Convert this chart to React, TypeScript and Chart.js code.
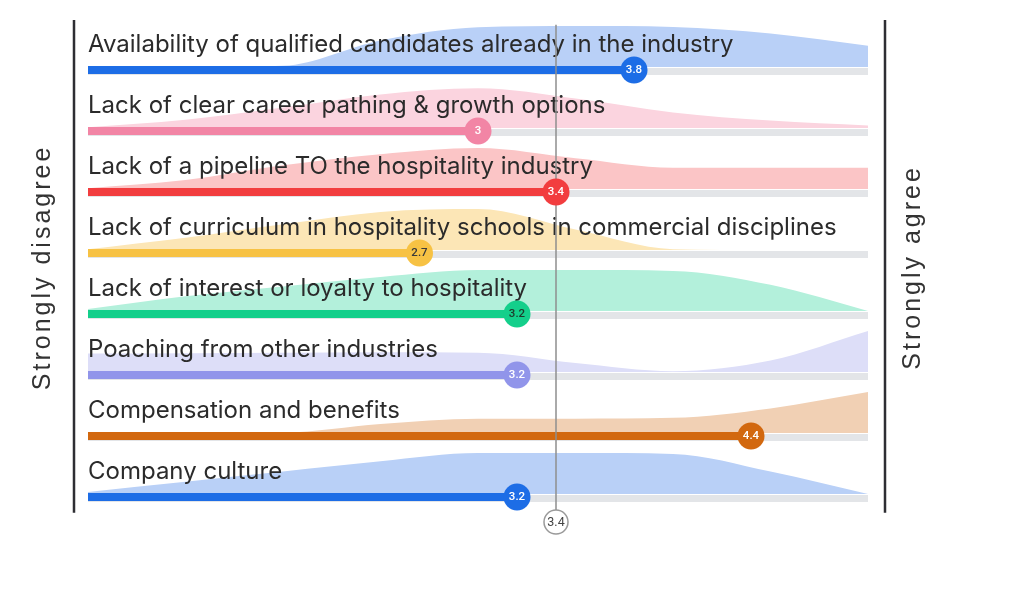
import { useEffect, useRef } from 'react';
import { Chart, registerables } from 'chart.js';

Chart.register(...registerables);

// ---------- data ----------
const categories = [
  'Availability of qualified candidates already in the industry',
  'Lack of clear career pathing & growth options',
  'Lack of a pipeline TO the hospitality industry',
  'Lack of curriculum in hospitality schools in commercial disciplines',
  'Lack of interest or loyalty to hospitality',
  'Poaching from other industries',
  'Compensation and benefits',
  'Company culture',
];
const values = [3.8, 3, 3.4, 2.7, 3.2, 3.2, 4.4, 3.2];
const valueLabels = ['3.8', '3', '3.4', '2.7', '3.2', '3.2', '4.4', '3.2'];
const meanValue = 3.4;
const meanLabel = '3.4';
const scaleMin = 1;
const scaleMax = 5;
const minLabel = 'Strongly disagree';
const maxLabel = 'Strongly agree';

// response distribution (relative density) sampled at these scale points
const densityX = [1, 1.5, 2, 2.5, 3, 3.5, 4, 4.5, 5];
const densityAvailability = [0, 0, 0.03, 0.65, 0.97, 1.0, 0.98, 0.82, 0.52];
const densityCareer = [0.02, 0.2, 0.5, 0.82, 0.97, 0.72, 0.38, 0.18, 0.06];
const densityPipeline = [0.02, 0.22, 0.58, 0.85, 1.0, 0.75, 0.52, 0.52, 0.52];
const densityCurriculum = [0.02, 0.3, 0.63, 0.93, 1.0, 0.5, 0.02, 0, 0];
const densityLoyalty = [0.05, 0.36, 0.6, 0.83, 1.0, 1.0, 0.98, 0.64, 0];
const densityPoaching = [0.45, 0.46, 0.47, 0.48, 0.47, 0.22, 0.02, 0.28, 1.0];
const densityCompensation = [0, 0, 0.01, 0.22, 0.35, 0.35, 0.37, 0.6, 1.0];
const densityCulture = [0.05, 0.3, 0.55, 0.8, 1.0, 1.0, 0.98, 0.55, 0];
const densities = [
  densityAvailability,
  densityCareer,
  densityPipeline,
  densityCurriculum,
  densityLoyalty,
  densityPoaching,
  densityCompensation,
  densityCulture,
];

// ---------- styles ----------
const barColors = ['#1d6de6', '#f285a5', '#f23d3f', '#f7c244', '#14cf8b', '#9195ea', '#d2680f', '#1d6de6'];
const areaColors = ['#b9d0f7', '#fbd4df', '#fbc5c6', '#fce6b6', '#b3f0db', '#dddef8', '#f1d0b4', '#b9d0f7'];
const valueTextColors = ['#ffffff', '#ffffff', '#ffffff', '#3a3a3a', '#1f3a2c', '#ffffff', '#ffffff', '#ffffff'];
const trackColor = '#e3e5e8';
const meanColor = '#8e8e8e';
const textColor = '#2b2b2b';
const ridgeHeight = 0.67; // in row units
const ridgeBaseOffset = 0.05;

export default function App() {
  const canvasRef = useRef<HTMLCanvasElement | null>(null);

  useEffect(() => {
    const canvas = canvasRef.current;
    if (!canvas) return;
    const n = categories.length;
    const datasets: any[] = [];

    // ridges
    densities.forEach((d, k) => {
      datasets.push({
        type: 'line',
        data: densityX.map((x, i) => ({ x, y: k - ridgeBaseOffset - d[i] * ridgeHeight })),
        fill: { value: k - ridgeBaseOffset },
        backgroundColor: areaColors[k],
        borderWidth: 0,
        pointRadius: 0,
        cubicInterpolationMode: 'monotone',
        order: 5,
      });
    });
    // tracks
    categories.forEach((_, k) => {
      datasets.push({
        type: 'line',
        data: [
          { x: scaleMin, y: k + 0.025 },
          { x: scaleMax, y: k + 0.025 },
        ],
        borderColor: trackColor,
        borderWidth: 7,
        borderCapStyle: 'butt',
        pointRadius: 0,
        fill: false,
        order: 4,
      });
    });
    // bars
    values.forEach((v, k) => {
      datasets.push({
        type: 'line',
        data: [
          { x: scaleMin, y: k },
          { x: v, y: k },
        ],
        borderColor: barColors[k],
        borderWidth: 8,
        borderCapStyle: 'butt',
        pointRadius: 0,
        fill: false,
        order: 3,
      });
    });
    // mean line
    datasets.push({
      type: 'line',
      data: [
        { x: meanValue, y: -0.74 },
        { x: meanValue, y: n - 1 + 0.41 },
      ],
      borderColor: meanColor,
      borderWidth: 1.5,
      pointRadius: 0,
      fill: false,
      order: 2,
    });
    // value markers
    datasets.push({
      type: 'scatter',
      data: values.map((v, k) => ({ x: v, y: k })),
      pointRadius: 13.5,
      pointBackgroundColor: barColors,
      pointBorderWidth: 0,
      order: 1,
    });
    // mean marker
    datasets.push({
      type: 'scatter',
      data: [{ x: meanValue, y: n - 1 + 0.41 }],
      pointRadius: 12,
      pointBackgroundColor: '#ffffff',
      pointBorderColor: '#9a9a9a',
      pointBorderWidth: 1.5,
      order: 0,
    });

    const labelPlugin = {
      id: 'ridgeLabels',
      afterDatasetDraw(chart: any, args: any) {
        if (args.index !== 0) return;
        const ctx = chart.ctx;
        const xs = chart.scales.x;
        const ys = chart.scales.y;
        ctx.save();
        ctx.fillStyle = textColor;
        ctx.font = '24px Inter, sans-serif';
        ctx.textAlign = 'left';
        ctx.textBaseline = 'alphabetic';
        categories.forEach((c, k) => {
          ctx.fillText(c, xs.getPixelForValue(scaleMin), ys.getPixelForValue(k) - 18);
        });
        ctx.restore();
      },
      afterDatasetsDraw(chart: any) {
        const ctx = chart.ctx;
        const xs = chart.scales.x;
        const ys = chart.scales.y;
        ctx.save();
        // marker values
        ctx.textAlign = 'center';
        ctx.textBaseline = 'middle';
        ctx.font = '500 11.5px Roboto, sans-serif';
        values.forEach((v, k) => {
          ctx.fillStyle = valueTextColors[k];
          ctx.fillText(valueLabels[k], xs.getPixelForValue(v), ys.getPixelForValue(k) + 0.5);
        });
        ctx.fillStyle = '#444444';
        ctx.font = '12.5px Roboto, sans-serif';
        ctx.fillText(meanLabel, xs.getPixelForValue(meanValue), ys.getPixelForValue(n - 1 + 0.41) + 0.5);

        // boundary lines
        const top = ys.getPixelForValue(-0.82);
        const bottom = ys.getPixelForValue(n - 1 + 0.26);
        const lx = xs.getPixelForValue(scaleMin) - 14;
        const rx = xs.getPixelForValue(scaleMax) + 17;
        ctx.strokeStyle = '#2e2e33';
        ctx.lineWidth = 2.5;
        ctx.beginPath();
        ctx.moveTo(lx, top);
        ctx.lineTo(lx, bottom);
        ctx.moveTo(rx, top);
        ctx.lineTo(rx, bottom);
        ctx.stroke();

        // rotated end labels
        const midY = (top + bottom) / 2 + 1;
        ctx.fillStyle = '#333333';
        ctx.font = '25px "Liberation Sans", Arial, sans-serif';
        (ctx as any).letterSpacing = '3px';
        ctx.textAlign = 'center';
        ctx.textBaseline = 'alphabetic';
        ctx.save();
        ctx.translate(lx - 24, midY);
        ctx.rotate(-Math.PI / 2);
        ctx.fillText(minLabel, 0, 0);
        ctx.restore();
        ctx.save();
        ctx.translate(rx + 35, midY);
        ctx.rotate(-Math.PI / 2);
        ctx.fillText(maxLabel, 0, 0);
        ctx.restore();
        (ctx as any).letterSpacing = '0px';
        ctx.restore();
      },
    };

    const chart = new Chart(canvas, {
      type: 'line',
      data: { datasets },
      options: {
        animation: false,
        responsive: false,
        maintainAspectRatio: false,
        layout: { autoPadding: false, padding: { left: 88, right: 156, top: 9, bottom: 43 } },
        plugins: { legend: { display: false }, tooltip: { enabled: false } },
        scales: {
          x: { type: 'linear', min: scaleMin, max: scaleMax, display: false },
          y: { type: 'linear', min: -1, max: n, reverse: true, display: false },
        },
        datasets: { line: { clip: false }, scatter: { clip: false } } as any,
      } as any,
      plugins: [labelPlugin],
    });
    return () => chart.destroy();
  }, []);

  return (
    <div style={{ position: 'fixed', left: 0, top: 0, width: 1024, height: 601, background: '#ffffff' }}>
      <canvas ref={canvasRef} width={1024} height={601} style={{ display: 'block' }} />
    </div>
  );
}
